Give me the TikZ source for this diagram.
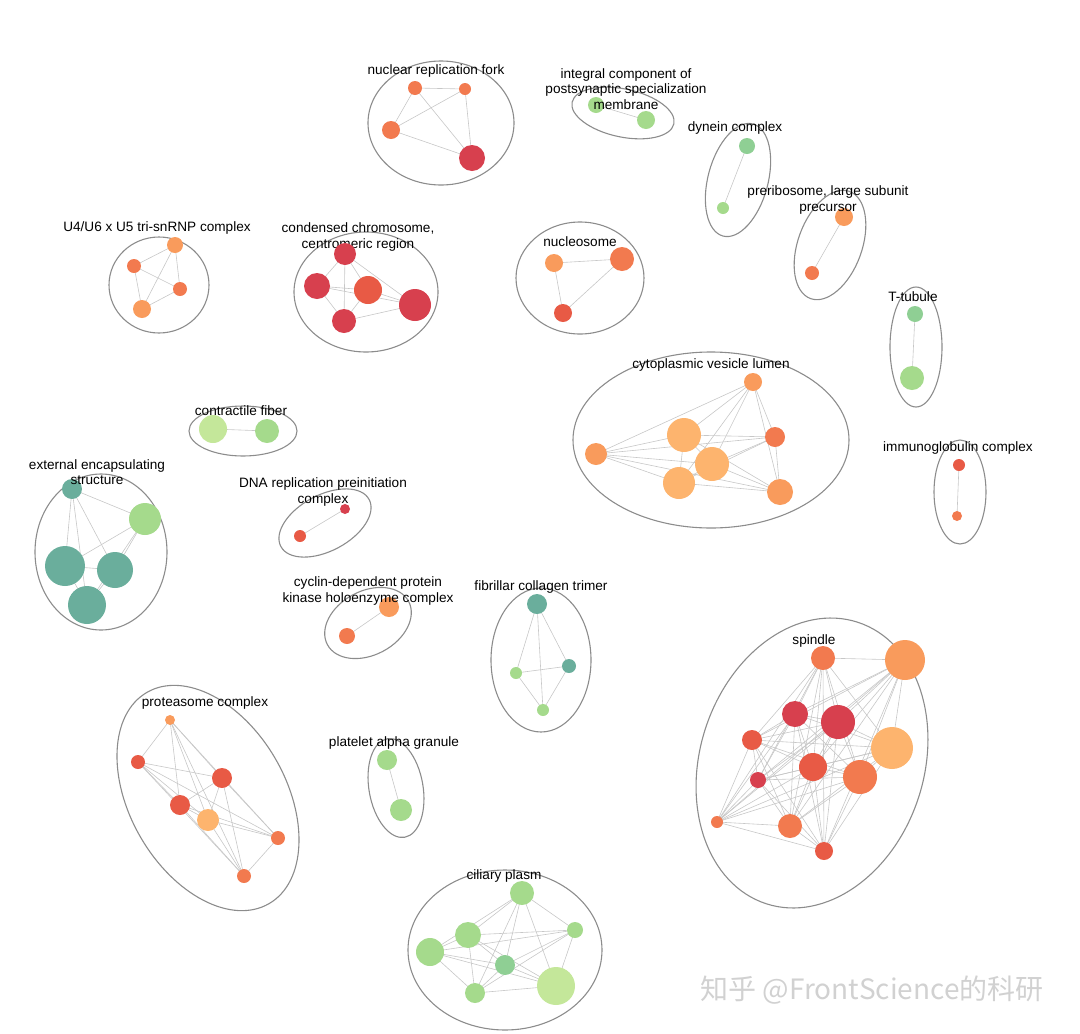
\documentclass[tikz,border=0pt]{standalone}
\usepackage{fontspec}
\setmainfont{Liberation Sans}
\newfontfamily\cjk{Noto Sans CJK SC}
\pgfdeclarelayer{bg}\pgfsetlayers{bg,main}
\definecolor{cR}{HTML}{D7404E}
\definecolor{cRO}{HTML}{E85A45}
\definecolor{cOR}{HTML}{F27A4F}
\definecolor{cO}{HTML}{F99B5C}
\definecolor{cLO}{HTML}{FDB46E}
\definecolor{cLG}{HTML}{A5DA8C}
\definecolor{cG}{HTML}{8FCF94}
\definecolor{cT}{HTML}{6AAE9C}
\definecolor{cYG}{HTML}{C4E79A}
\tikzset{dot/.style={circle,inner sep=0pt,minimum size=2*#1 pt},
 hull/.style={draw=black!45,line width=1.1pt},
 edge/.style={draw=black!22,line width=0.6pt},
 lab/.style={font=\fontsize{13.6}{15.5}\selectfont,align=center,inner sep=0pt}}
\newcommand\allpairs[2]{\begin{pgfonlayer}{bg}\foreach \i in {1,...,#2}{\foreach \j in {1,...,#2}{\ifnum\i<\j \draw[edge] (#1\i.center)--(#1\j.center);\fi}}\end{pgfonlayer}}
\newcommand\dn[5]{\node[dot=#4,fill=#5] (#1) at (#2,#3) {};}
\begin{document}
\begin{tikzpicture}[x=1pt,y=-1pt]
\useasboundingbox (0,0) rectangle (1080,1034);
% 1 nuclear replication fork
\draw[hull] (441,123) ellipse [x radius=73,y radius=62];
\node[lab] (l1) at (436,71) {nuclear replication fork};
\dn{a1}{415}{88}{7}{cOR}\dn{a2}{465}{89}{6}{cOR}\dn{a3}{391}{130}{9}{cOR}\dn{a4}{472}{158}{13}{cR}
\allpairs{a}{4}
% 2 integral
\draw[hull,rotate around={-12:(623,113)}] (623,113) ellipse [x radius=52,y radius=24];
\dn{b1}{596}{105}{8}{cLG}\dn{b2}{646}{120}{9}{cLG}
\allpairs{b}{2}
\node[lab] (l2) at (626,89) {integral component of\\postsynaptic specialization\\membrane};
% 3 dynein
\draw[hull,rotate around={-15:(738,180)}] (738,180) ellipse [x radius=30,y radius=58];
\node[lab] (l3) at (735,128) {dynein complex};
\dn{c1}{747}{146}{8}{cG}\dn{c2}{723}{208}{6}{cLG}
\allpairs{c}{2}
% 4 preribosome
\draw[hull,rotate around={-20:(830,245)}] (830,245) ellipse [x radius=32,y radius=57];
\dn{d1}{844}{217}{9}{cO}\dn{d2}{812}{273}{7}{cOR}
\allpairs{d}{2}
\node[lab] (l4) at (828,200) {preribosome, large subunit\\precursor};
% 5 T-tubule
\draw[hull] (916,347) ellipse [x radius=26,y radius=60];
\node[lab] (l5) at (913,297) {T-tubule};
\dn{e1}{915}{314}{8}{cG}\dn{e2}{912}{378}{12}{cLG}
\allpairs{e}{2}
% 6 U4/U6
\draw[hull] (159,285) ellipse [x radius=50,y radius=48];
\node[lab] (l6) at (157,228) {U4/U6 x U5 tri-snRNP complex};
\dn{f1}{175}{245}{8}{cO}\dn{f2}{134}{266}{7}{cOR}\dn{f3}{180}{289}{7}{cOR}\dn{f4}{142}{309}{9}{cO}
\allpairs{f}{4}
% 7 condensed chromosome
\draw[hull] (366,292) ellipse [x radius=72,y radius=60];
\node[lab] (l7) at (358,237) {condensed chromosome,\\centromeric region};
\dn{g1}{345}{254}{11}{cR}\dn{g2}{317}{286}{13}{cR}\dn{g3}{368}{290}{14}{cRO}\dn{g4}{415}{305}{16}{cR}\dn{g5}{344}{321}{12}{cR}
\allpairs{g}{5}
% 8 nucleosome
\draw[hull] (580,278) ellipse [x radius=64,y radius=56];
\node[lab] (l8) at (580,242) {nucleosome};
\dn{h1}{554}{263}{9}{cO}\dn{h2}{622}{259}{12}{cOR}\dn{h3}{563}{313}{9}{cRO}
\allpairs{h}{3}
% 9 cytoplasmic vesicle lumen
\draw[hull] (711,440) ellipse [x radius=138,y radius=88];
\node[lab] (l9) at (711,365) {cytoplasmic vesicle lumen};
\dn{i1}{753}{382}{9}{cO}\dn{i2}{596}{454}{11}{cO}\dn{i3}{684}{435}{17}{cLO}\dn{i4}{712}{464}{17}{cLO}\dn{i5}{775}{437}{10}{cOR}\dn{i6}{679}{483}{16}{cLO}\dn{i7}{780}{492}{13}{cO}
\allpairs{i}{7}
% 10 immunoglobulin
\draw[hull] (960,492) ellipse [x radius=26,y radius=52];
\node[lab] (l10) at (958,448) {immunoglobulin complex};
\dn{j1}{959}{465}{6}{cRO}\dn{j2}{957}{516}{5}{cOR}
\allpairs{j}{2}
% 11 contractile fiber
\draw[hull] (243,431) ellipse [x radius=54,y radius=25];
\node[lab] (l11) at (241,411) {contractile fiber};
\dn{k1}{213}{429}{14}{cYG}\dn{k2}{267}{431}{12}{cLG}
\allpairs{k}{2}
% 12 external encapsulating structure
\draw[hull] (101,552) ellipse [x radius=66,y radius=78];
\dn{m1}{72}{489}{10}{cT}\dn{m2}{145}{519}{16}{cLG}\dn{m3}{65}{566}{20}{cT}\dn{m4}{115}{570}{18}{cT}\dn{m5}{87}{605}{19}{cT}
\allpairs{m}{5}
\node[lab] (l12) at (97,472) {external encapsulating\\structure};
% 13 DNA replication
\draw[hull,rotate around={28:(325,523)}] (325,523) ellipse [x radius=50,y radius=28];
\dn{n1}{345}{509}{5}{cR}\dn{n2}{300}{536}{6}{cRO}
\allpairs{n}{2}
\node[lab] (l13) at (323,492) {DNA replication preinitiation\\complex};
% 14 cyclin
\draw[hull,rotate around={28:(368,623)}] (368,623) ellipse [x radius=46,y radius=32];
\dn{o1}{389}{607}{10}{cO}\dn{o2}{347}{636}{8}{cOR}
\allpairs{o}{2}
\node[lab] (l14) at (368,591) {cyclin-dependent protein\\kinase holoenzyme complex};
% 15 fibrillar collagen
\draw[hull] (541,660) ellipse [x radius=50,y radius=72];
\node[lab] (l15) at (541,587) {fibrillar collagen trimer};
\dn{p1}{537}{604}{10}{cT}\dn{p2}{569}{666}{7}{cT}\dn{p3}{516}{673}{6}{cLG}\dn{p4}{543}{710}{6}{cLG}
\allpairs{p}{4}
% 16 spindle
\draw[hull,rotate around={-18:(812,763)}] (812,763) ellipse [x radius=112,y radius=148];
\dn{s1}{823}{658}{12}{cOR}\dn{s2}{905}{660}{20}{cO}\dn{s3}{795}{714}{13}{cR}\dn{s4}{838}{722}{17}{cR}\dn{s5}{752}{740}{10}{cRO}\dn{s6}{892}{748}{21}{cLO}\dn{s7}{813}{767}{14}{cRO}\dn{s8}{758}{780}{8}{cR}\dn{s9}{860}{777}{17}{cOR}\dn{s10}{717}{822}{6}{cOR}\dn{s11}{790}{826}{12}{cOR}\dn{s12}{824}{851}{9}{cRO}
\allpairs{s}{12}
\node[lab] (l16) at (814,641) {spindle};
% 17 proteasome
\draw[hull,rotate around={30:(208,798)}] (208,798) ellipse [x radius=78,y radius=122];
\node[lab] (l17) at (205,703) {proteasome complex};
\dn{q1}{170}{720}{5}{cO}\dn{q2}{138}{762}{7}{cRO}\dn{q3}{222}{778}{10}{cRO}\dn{q4}{180}{805}{10}{cRO}\dn{q5}{208}{820}{11}{cLO}\dn{q6}{278}{838}{7}{cOR}\dn{q7}{244}{876}{7}{cOR}
\allpairs{q}{7}
% 18 platelet
\draw[hull,rotate around={10:(396,788)}] (396,788) ellipse [x radius=27,y radius=50];
\node[lab] (l18) at (394,743) {platelet alpha granule};
\dn{r1}{387}{760}{10}{cLG}\dn{r2}{401}{810}{11}{cLG}
\allpairs{r}{2}
% 19 ciliary plasm
\draw[hull] (505,950) ellipse [x radius=97,y radius=80];
\node[lab] (l19) at (504,876) {ciliary plasm};
\dn{t1}{522}{893}{12}{cLG}\dn{t2}{575}{930}{8}{cLG}\dn{t3}{430}{952}{14}{cLG}\dn{t4}{468}{935}{13}{cLG}\dn{t5}{505}{965}{10}{cG}\dn{t6}{556}{986}{19}{cYG}\dn{t7}{475}{993}{10}{cLG}
\allpairs{t}{7}
% watermark
\node[font=\cjk\fontsize{28}{30}\selectfont,text=black!18] (wm) at (872,990) {知乎 @FrontScience的科研};
\end{tikzpicture}
\end{document}
